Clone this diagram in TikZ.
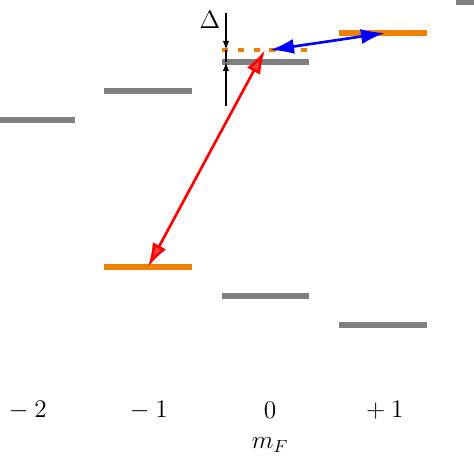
\documentclass[tikz,border=0pt]{standalone}
\usepackage{amsmath,amssymb}
\usetikzlibrary{arrows.meta}
\definecolor{LvlGray}{HTML}{808080}
\definecolor{LvlOrange}{HTML}{F08000}

\begin{document}
\begin{tikzpicture}[
          level/.style={line width=3.4pt,draw=LvlGray},
          pumped/.style={line width=3.4pt,draw=LvlOrange},
          virtual/.style={line width=2pt,draw=LvlOrange,dash pattern=on 3.5pt off 5.5pt},
          raman/.style={{Latex[length=4.8mm,width=3mm,open,fill=red!75]}-{Latex[length=4.8mm,width=3mm,open,fill=red!75]},line width=1.5pt,draw=red},
          coupling/.style={{Latex[length=4.8mm,width=3mm,fill=blue]}-{Latex[length=4.8mm,width=3mm,fill=blue]},line width=1.5pt,draw=blue},
          detuning/.style={-{Latex[length=1.8mm,width=1.3mm]},line width=1pt},
          mlabel/.style={font=\Large}
        ]
        \path[use as bounding box] (0,0) rectangle (9.48,-9.48);

        % upper manifold F=2
        \coordinate (u2l) at (-0.2,-2.40);  \coordinate (u2r) at (1.50,-2.40);
        \coordinate (u1l) at (2.08,-1.82);  \coordinate (u1r) at (3.84,-1.82);
        \coordinate (u0l) at (4.44,-1.24);  \coordinate (u0r) at (6.18,-1.24);
        \coordinate (up1l) at (6.78,-0.66); \coordinate (up1r) at (8.54,-0.66);
        \coordinate (up2l) at (9.12,-0.04); \coordinate (up2r) at (9.9,-0.04);
        \draw[level] (u2l) -- (u2r);
        \draw[level] (u1l) -- (u1r);
        \draw[level] (u0l) -- (u0r);
        \draw[pumped] (up1l) -- (up1r);
        \draw[level] (up2l) -- (up2r);

        % lower manifold F=1
        \coordinate (l1l) at (2.08,-5.34);  \coordinate (l1r) at (3.84,-5.34);
        \coordinate (l0l) at (4.44,-5.92);  \coordinate (l0r) at (6.18,-5.92);
        \coordinate (lp1l) at (6.78,-6.50); \coordinate (lp1r) at (8.54,-6.50);
        \draw[pumped] (l1l) -- (l1r);
        \draw[level] (l0l) -- (l0r);
        \draw[level] (lp1l) -- (lp1r);

        % virtual level
        \coordinate (vl) at (4.44,-1.00); \coordinate (vr) at (6.18,-1.00);
        \draw[virtual] (vl) -- (vr);

        % couplings
        \coordinate (redtop) at (5.30,-1.00);
        \coordinate (redbot) at (2.96,-5.34);
        \coordinate (bluel) at (5.40,-1.00);
        \coordinate (bluer) at (7.70,-0.66);
        \draw[raman] (redtop) -- (redbot);
        \draw[coupling] (bluel) -- (bluer);

        % detuning
        \coordinate (dtop) at (4.52,-0.26);
        \coordinate (dmid) at (4.52,-1.00);
        \coordinate (dlow) at (4.52,-1.24);
        \coordinate (dbot) at (4.52,-2.12);
        \draw[line width=1pt] (dmid) -- (dlow);
        \draw[detuning] (dtop) -- (dmid);
        \draw[detuning] (dbot) -- (dlow);
        \node[mlabel] (delta) at (4.20,-0.40) {$\Delta$};

        % axis labels
        \node[mlabel] (mm2) at (0.50,-8.20) {${}-2$};
        \node[mlabel] (mm1) at (2.92,-8.20) {${}-1$};
        \node[mlabel] (m0) at (5.40,-8.20) {$0$};
        \node[mlabel] (mp1) at (7.64,-8.20) {${}+1$};
        \node[mlabel] (mf) at (5.40,-8.90) {$m_F$};
      \end{tikzpicture}
\end{document}
